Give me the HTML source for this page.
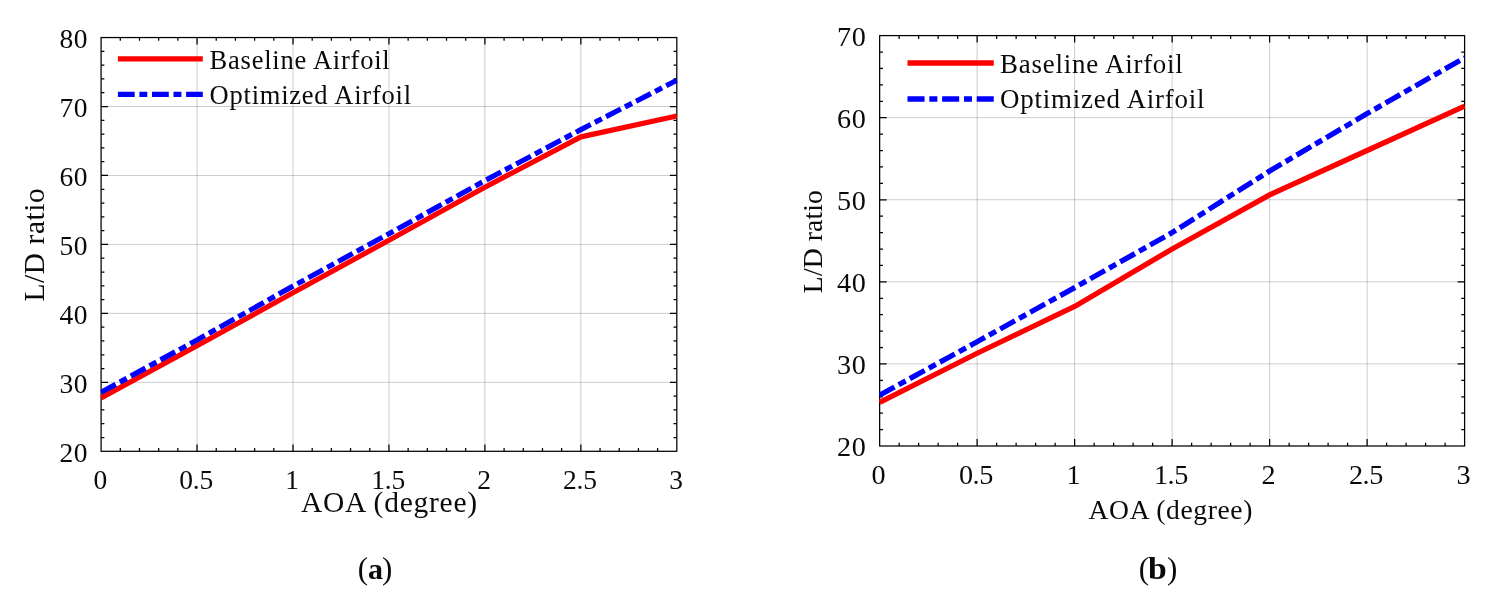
<!DOCTYPE html>
<html><head><meta charset="utf-8"><title>L/D ratio vs AOA</title>
<style>
html,body{margin:0;padding:0;background:#fff;}
body{width:1500px;height:602px;overflow:hidden;}
svg{display:block;font-family:"Liberation Serif",serif;}
</style></head><body>
<svg width="1500" height="602" viewBox="0 0 1500 602">
<rect width="1500" height="602" fill="#fff"/>
<path d="M197.05 37.55V451.3M293.00 37.55V451.3M388.95 37.55V451.3M484.90 37.55V451.3M580.85 37.55V451.3M101.1 382.34H676.8M101.1 313.38H676.8M101.1 244.43H676.8M101.1 175.47H676.8M101.1 106.51H676.8" stroke="#000" stroke-opacity="0.2" stroke-width="1" fill="none"/>
<path d="M120.29 451.3v-3.30M120.29 37.55v3.30M139.48 451.3v-3.30M139.48 37.55v3.30M158.67 451.3v-3.30M158.67 37.55v3.30M177.86 451.3v-3.30M177.86 37.55v3.30M197.05 451.3v-6.90M197.05 37.55v6.90M216.24 451.3v-3.30M216.24 37.55v3.30M235.43 451.3v-3.30M235.43 37.55v3.30M254.62 451.3v-3.30M254.62 37.55v3.30M273.81 451.3v-3.30M273.81 37.55v3.30M293.00 451.3v-6.90M293.00 37.55v6.90M312.19 451.3v-3.30M312.19 37.55v3.30M331.38 451.3v-3.30M331.38 37.55v3.30M350.57 451.3v-3.30M350.57 37.55v3.30M369.76 451.3v-3.30M369.76 37.55v3.30M388.95 451.3v-6.90M388.95 37.55v6.90M408.14 451.3v-3.30M408.14 37.55v3.30M427.33 451.3v-3.30M427.33 37.55v3.30M446.52 451.3v-3.30M446.52 37.55v3.30M465.71 451.3v-3.30M465.71 37.55v3.30M484.90 451.3v-6.90M484.90 37.55v6.90M504.09 451.3v-3.30M504.09 37.55v3.30M523.28 451.3v-3.30M523.28 37.55v3.30M542.47 451.3v-3.30M542.47 37.55v3.30M561.66 451.3v-3.30M561.66 37.55v3.30M580.85 451.3v-6.90M580.85 37.55v6.90M600.04 451.3v-3.30M600.04 37.55v3.30M619.23 451.3v-3.30M619.23 37.55v3.30M638.42 451.3v-3.30M638.42 37.55v3.30M657.61 451.3v-3.30M657.61 37.55v3.30M101.1 437.51h3.30M676.8 437.51h-3.30M101.1 423.72h3.30M676.8 423.72h-3.30M101.1 409.93h3.30M676.8 409.93h-3.30M101.1 396.13h3.30M676.8 396.13h-3.30M101.1 382.34h6.90M676.8 382.34h-6.90M101.1 368.55h3.30M676.8 368.55h-3.30M101.1 354.76h3.30M676.8 354.76h-3.30M101.1 340.97h3.30M676.8 340.97h-3.30M101.1 327.18h3.30M676.8 327.18h-3.30M101.1 313.38h6.90M676.8 313.38h-6.90M101.1 299.59h3.30M676.8 299.59h-3.30M101.1 285.80h3.30M676.8 285.80h-3.30M101.1 272.01h3.30M676.8 272.01h-3.30M101.1 258.22h3.30M676.8 258.22h-3.30M101.1 244.43h6.90M676.8 244.43h-6.90M101.1 230.63h3.30M676.8 230.63h-3.30M101.1 216.84h3.30M676.8 216.84h-3.30M101.1 203.05h3.30M676.8 203.05h-3.30M101.1 189.26h3.30M676.8 189.26h-3.30M101.1 175.47h6.90M676.8 175.47h-6.90M101.1 161.68h3.30M676.8 161.68h-3.30M101.1 147.88h3.30M676.8 147.88h-3.30M101.1 134.09h3.30M676.8 134.09h-3.30M101.1 120.30h3.30M676.8 120.30h-3.30M101.1 106.51h6.90M676.8 106.51h-6.90M101.1 92.72h3.30M676.8 92.72h-3.30M101.1 78.93h3.30M676.8 78.93h-3.30M101.1 65.13h3.30M676.8 65.13h-3.30M101.1 51.34h3.30M676.8 51.34h-3.30" stroke="#000" stroke-width="1.25" fill="none"/>
<rect x="101.1" y="37.55" width="575.6999999999999" height="413.75" fill="none" stroke="#000" stroke-width="1.25"/>
<clipPath id="c101"><rect x="100.5" y="27.549999999999997" width="576.9" height="433.75"/></clipPath>
<g clip-path="url(#c101)" fill="none" stroke-width="5.2">
<polyline points="101.10,397.86 197.05,345.79 293.00,292.70 388.95,240.29 484.90,187.19 580.85,136.85 676.80,116.02" stroke="#ff0000" stroke-linejoin="round"/>
<polyline points="101.10,392.34 197.05,339.93 293.00,286.14 388.95,233.74 484.90,180.64 580.85,129.61 676.80,80.30" stroke="#0000ff" stroke-dasharray="16.67 4.66 7.85 4.66" stroke-dashoffset="0"/>
</g>
<g fill="#0a0a0a">
<text x="100.30" y="489.10" font-size="27.5" letter-spacing="0" text-anchor="middle">0</text>
<text x="196.15" y="489.10" font-size="27.5" letter-spacing="-0.2" text-anchor="middle">0.5</text>
<text x="292.20" y="489.10" font-size="27.5" letter-spacing="0" text-anchor="middle">1</text>
<text x="388.05" y="489.10" font-size="27.5" letter-spacing="-0.2" text-anchor="middle">1.5</text>
<text x="484.10" y="489.10" font-size="27.5" letter-spacing="0" text-anchor="middle">2</text>
<text x="579.95" y="489.10" font-size="27.5" letter-spacing="-0.2" text-anchor="middle">2.5</text>
<text x="676.00" y="489.10" font-size="27.5" letter-spacing="0" text-anchor="middle">3</text>
<text x="88.20" y="461.50" font-size="27.5" letter-spacing="0.6" text-anchor="end">20</text>
<text x="88.20" y="392.54" font-size="27.5" letter-spacing="0.6" text-anchor="end">30</text>
<text x="88.20" y="323.58" font-size="27.5" letter-spacing="0.6" text-anchor="end">40</text>
<text x="88.20" y="254.62" font-size="27.5" letter-spacing="0.6" text-anchor="end">50</text>
<text x="88.20" y="185.67" font-size="27.5" letter-spacing="0.6" text-anchor="end">60</text>
<text x="88.20" y="116.71" font-size="27.5" letter-spacing="0.6" text-anchor="end">70</text>
<text x="88.20" y="47.75" font-size="27.5" letter-spacing="0.6" text-anchor="end">80</text>
<text x="389.38" y="512.40" font-size="29.5" letter-spacing="0.75" text-anchor="middle">AOA (degree)</text>
<text x="0.28" y="0.00" font-size="29.5" letter-spacing="0.55" text-anchor="middle" transform="translate(44.3 244.9) rotate(-90)">L/D ratio</text>
<text x="209.60" y="68.50" font-size="26.5" letter-spacing="0.77" text-anchor="start">Baseline Airfoil</text>
<text x="209.60" y="103.50" font-size="26.5" letter-spacing="0.77" text-anchor="start">Optimized Airfoil</text>
</g>
<path d="M117.9 58.9H202.8" stroke="#ff0000" stroke-width="5.2" fill="none"/>
<path d="M117.9 94.4H202.8" stroke="#0000ff" stroke-width="5.2" stroke-dasharray="16.8 4.7 7.9 4.7" fill="none"/>
<path d="M977.14 35.6V446.0M1074.63 35.6V446.0M1172.12 35.6V446.0M1269.62 35.6V446.0M1367.11 35.6V446.0M879.65 363.92H1464.6M879.65 281.84H1464.6M879.65 199.76H1464.6M879.65 117.68H1464.6" stroke="#000" stroke-opacity="0.2" stroke-width="1" fill="none"/>
<path d="M899.15 446.0v-3.35M899.15 35.6v3.35M918.65 446.0v-3.35M918.65 35.6v3.35M938.14 446.0v-3.35M938.14 35.6v3.35M957.64 446.0v-3.35M957.64 35.6v3.35M977.14 446.0v-7.01M977.14 35.6v7.01M996.64 446.0v-3.35M996.64 35.6v3.35M1016.14 446.0v-3.35M1016.14 35.6v3.35M1035.64 446.0v-3.35M1035.64 35.6v3.35M1055.13 446.0v-3.35M1055.13 35.6v3.35M1074.63 446.0v-7.01M1074.63 35.6v7.01M1094.13 446.0v-3.35M1094.13 35.6v3.35M1113.63 446.0v-3.35M1113.63 35.6v3.35M1133.13 446.0v-3.35M1133.13 35.6v3.35M1152.63 446.0v-3.35M1152.63 35.6v3.35M1172.12 446.0v-7.01M1172.12 35.6v7.01M1191.62 446.0v-3.35M1191.62 35.6v3.35M1211.12 446.0v-3.35M1211.12 35.6v3.35M1230.62 446.0v-3.35M1230.62 35.6v3.35M1250.12 446.0v-3.35M1250.12 35.6v3.35M1269.62 446.0v-7.01M1269.62 35.6v7.01M1289.12 446.0v-3.35M1289.12 35.6v3.35M1308.61 446.0v-3.35M1308.61 35.6v3.35M1328.11 446.0v-3.35M1328.11 35.6v3.35M1347.61 446.0v-3.35M1347.61 35.6v3.35M1367.11 446.0v-7.01M1367.11 35.6v7.01M1386.61 446.0v-3.35M1386.61 35.6v3.35M1406.11 446.0v-3.35M1406.11 35.6v3.35M1425.60 446.0v-3.35M1425.60 35.6v3.35M1445.10 446.0v-3.35M1445.10 35.6v3.35M879.65 429.58h3.35M1464.6 429.58h-3.35M879.65 413.17h3.35M1464.6 413.17h-3.35M879.65 396.75h3.35M1464.6 396.75h-3.35M879.65 380.34h3.35M1464.6 380.34h-3.35M879.65 363.92h7.01M1464.6 363.92h-7.01M879.65 347.50h3.35M1464.6 347.50h-3.35M879.65 331.09h3.35M1464.6 331.09h-3.35M879.65 314.67h3.35M1464.6 314.67h-3.35M879.65 298.26h3.35M1464.6 298.26h-3.35M879.65 281.84h7.01M1464.6 281.84h-7.01M879.65 265.42h3.35M1464.6 265.42h-3.35M879.65 249.01h3.35M1464.6 249.01h-3.35M879.65 232.59h3.35M1464.6 232.59h-3.35M879.65 216.18h3.35M1464.6 216.18h-3.35M879.65 199.76h7.01M1464.6 199.76h-7.01M879.65 183.34h3.35M1464.6 183.34h-3.35M879.65 166.93h3.35M1464.6 166.93h-3.35M879.65 150.51h3.35M1464.6 150.51h-3.35M879.65 134.10h3.35M1464.6 134.10h-3.35M879.65 117.68h7.01M1464.6 117.68h-7.01M879.65 101.26h3.35M1464.6 101.26h-3.35M879.65 84.85h3.35M1464.6 84.85h-3.35M879.65 68.43h3.35M1464.6 68.43h-3.35M879.65 52.02h3.35M1464.6 52.02h-3.35" stroke="#000" stroke-width="1.25" fill="none"/>
<rect x="879.65" y="35.6" width="584.9499999999999" height="410.4" fill="none" stroke="#000" stroke-width="1.25"/>
<clipPath id="c879"><rect x="879.05" y="25.6" width="586.15" height="430.4"/></clipPath>
<g clip-path="url(#c879)" fill="none" stroke-width="5.3">
<polyline points="879.65,402.50 977.14,353.25 1074.63,306.46 1172.12,249.01 1269.62,194.84 1367.11,150.51 1464.60,106.19" stroke="#ff0000" stroke-linejoin="round"/>
<polyline points="879.65,395.11 977.14,341.76 1074.63,287.59 1172.12,232.59 1269.62,171.03 1367.11,113.58 1464.60,57.76" stroke="#0000ff" stroke-dasharray="16.93 4.74 7.96 4.74" stroke-dashoffset="0"/>
</g>
<g fill="#0a0a0a">
<text x="878.65" y="484.40" font-size="28.2" letter-spacing="0" text-anchor="middle">0</text>
<text x="975.94" y="484.40" font-size="28.2" letter-spacing="-0.4" text-anchor="middle">0.5</text>
<text x="1073.63" y="484.40" font-size="28.2" letter-spacing="0" text-anchor="middle">1</text>
<text x="1170.92" y="484.40" font-size="28.2" letter-spacing="-0.4" text-anchor="middle">1.5</text>
<text x="1268.62" y="484.40" font-size="28.2" letter-spacing="0" text-anchor="middle">2</text>
<text x="1365.91" y="484.40" font-size="28.2" letter-spacing="-0.4" text-anchor="middle">2.5</text>
<text x="1463.60" y="484.40" font-size="28.2" letter-spacing="0" text-anchor="middle">3</text>
<text x="866.50" y="456.45" font-size="28.2" letter-spacing="0.6" text-anchor="end">20</text>
<text x="866.50" y="374.37" font-size="28.2" letter-spacing="0.6" text-anchor="end">30</text>
<text x="866.50" y="292.29" font-size="28.2" letter-spacing="0.6" text-anchor="end">40</text>
<text x="866.50" y="210.21" font-size="28.2" letter-spacing="0.6" text-anchor="end">50</text>
<text x="866.50" y="128.13" font-size="28.2" letter-spacing="0.6" text-anchor="end">60</text>
<text x="866.50" y="46.05" font-size="28.2" letter-spacing="0.6" text-anchor="end">70</text>
<text x="1170.81" y="519.20" font-size="27.6" letter-spacing="0.62" text-anchor="middle">AOA (degree)</text>
<text x="0.05" y="0.00" font-size="27.7" letter-spacing="0.1" text-anchor="middle" transform="translate(822.4 241.6) rotate(-90)">L/D ratio</text>
<text x="1000.10" y="73.30" font-size="26.9" letter-spacing="0.78" text-anchor="start">Baseline Airfoil</text>
<text x="1000.10" y="108.30" font-size="26.9" letter-spacing="0.78" text-anchor="start">Optimized Airfoil</text>
</g>
<path d="M907.5 63H993.75" stroke="#ff0000" stroke-width="5.3" fill="none"/>
<path d="M907.5 99H993.75" stroke="#0000ff" stroke-width="5.3" stroke-dasharray="17.06 4.77 8.02 4.77" fill="none"/>
<g fill="#0a0a0a">
<text x="357.85" y="579.0" font-size="31">(</text><text transform="translate(368 578.6) scale(1 1)" font-size="30" font-weight="bold">a</text><text x="382.0" y="579.0" font-size="31">)</text>
<text x="1138.65" y="579.0" font-size="31">(</text><text transform="translate(1147.9 579.2) scale(1.09 1)" font-size="31" font-weight="bold">b</text><text x="1166.9" y="579.0" font-size="31">)</text>
</g>
</svg>
</body></html>
